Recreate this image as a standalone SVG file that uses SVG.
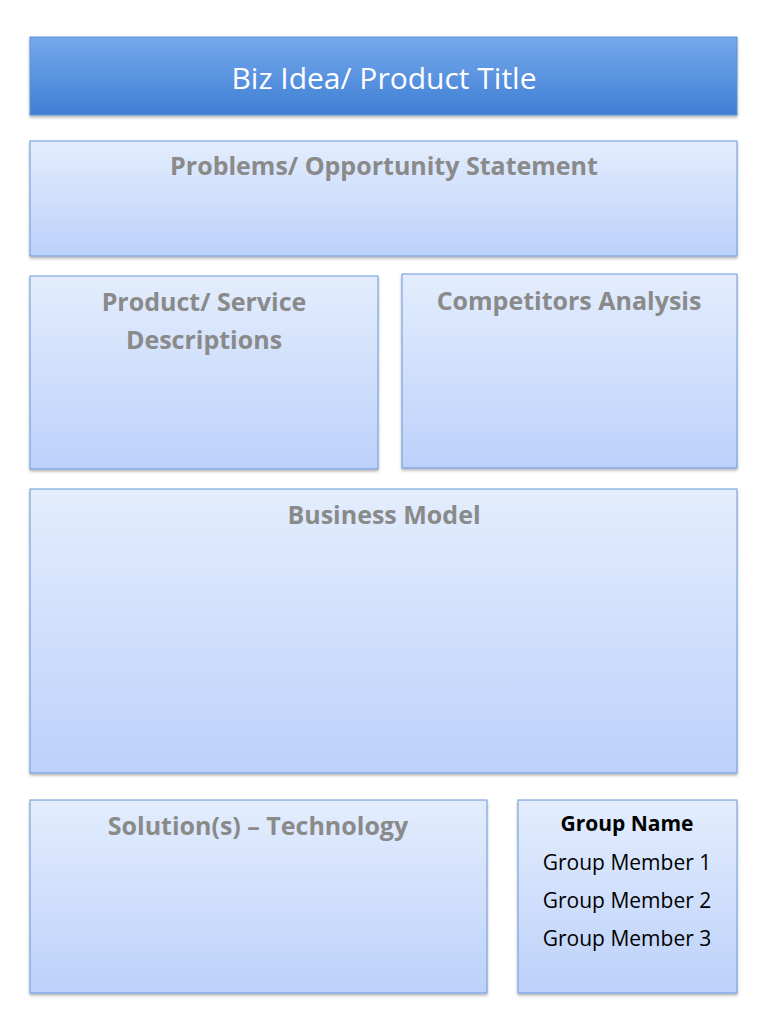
<svg xmlns="http://www.w3.org/2000/svg" width="768" height="1024" viewBox="0 0 768 1024">
<defs>
<linearGradient id="lb" x1="0" y1="0" x2="0" y2="1"><stop offset="0" stop-color="#e3edfd"/><stop offset="1" stop-color="#bcd1fa"/></linearGradient>
<linearGradient id="db" x1="0" y1="0" x2="0" y2="1"><stop offset="0" stop-color="#76a8ec"/><stop offset="1" stop-color="#3f7fd4"/></linearGradient>
<filter id="sh" x="-5%" y="-5%" width="110%" height="115%"><feDropShadow dx="0" dy="2" stdDeviation="1.5" flood-color="#000" flood-opacity="0.3"/></filter>
</defs>
<style>
.b{fill:url(#lb);stroke:#6a98dc;stroke-width:1;filter:url(#sh)}
.h{font-family:"Open Sans","Liberation Sans",sans-serif;font-weight:bold;font-size:25px;fill:#8a8a8a;text-anchor:middle}
.g{font-family:"Open Sans","Liberation Sans",sans-serif;font-size:21px;fill:#000;text-anchor:middle}
</style>
<rect width="768" height="1024" fill="#fff"/>
<g id="title"><rect x="30" y="37" width="707" height="78" fill="url(#db)" stroke="#5b8fd9" filter="url(#sh)"/><text x="384" y="89" font-family="Open Sans,Liberation Sans,sans-serif" font-size="30" fill="#fff" text-anchor="middle">Biz Idea/ Product Title</text></g>
<g id="problems"><rect class="b" x="30" y="141" width="707" height="115"/><text class="h" x="384" y="175">Problems/ Opportunity Statement</text></g>
<g id="product"><rect class="b" x="30" y="276" width="348" height="193"/><text class="h" x="204" y="311">Product/ Service</text><text class="h" x="204" y="349">Descriptions</text></g>
<g id="competitors"><rect class="b" x="402" y="274" width="335" height="194"/><text class="h" x="569" y="310">Competitors Analysis</text></g>
<g id="business"><rect class="b" x="30" y="489" width="707" height="284"/><text class="h" x="384" y="524">Business Model</text></g>
<g id="solutions"><rect class="b" x="30" y="800" width="457" height="193"/><text class="h" x="258" y="835">Solution(s) – Technology</text></g>
<g id="group"><rect class="b" x="518" y="800" width="219" height="193"/><text class="g" x="627" y="831" font-weight="bold">Group Name</text><text class="g" x="627" y="870">Group Member 1</text><text class="g" x="627" y="908">Group Member 2</text><text class="g" x="627" y="946">Group Member 3</text></g>
<g id="connectors"/>
</svg>
